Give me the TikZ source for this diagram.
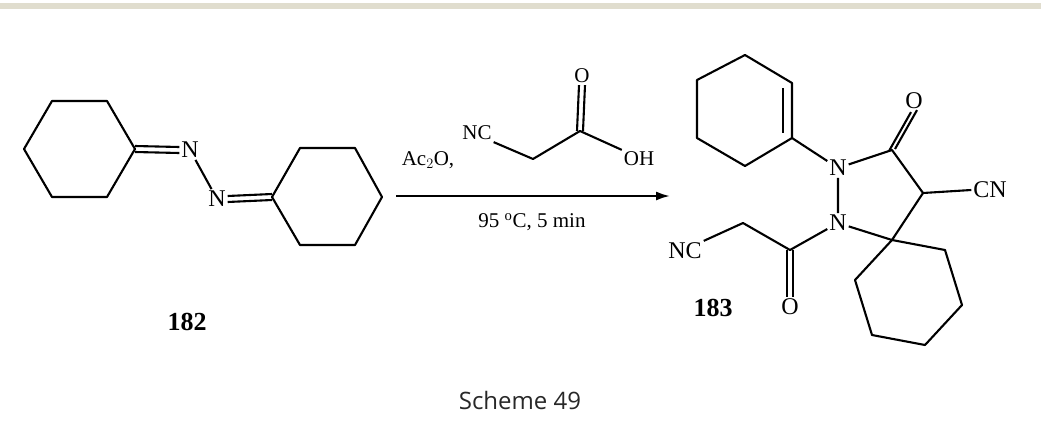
\documentclass[tikz,border=0pt]{standalone}
\usepackage{fontspec}
\usetikzlibrary{arrows.meta}
\setmainfont{Liberation Serif}
\newfontfamily\capfont{Open Sans}
\begin{document}
\begin{tikzpicture}[x=1pt,y=-1pt,line width=2.1pt,line join=round,
 atom/.style={inner sep=1pt,font=\fontsize{24}{25}\selectfont},
 reag/.style={inner sep=1pt,font=\fontsize{21}{22}\selectfont},
 lab/.style={font=\fontsize{26}{27}\selectfont\bfseries}]
\useasboundingbox (0,0) rectangle (1041,434);
\fill[fill={rgb,255:red,224;green,221;blue,206}] (0,3) rectangle (1041,9);
% 182
\draw (52,101)--(107,101)--(135,149)--(107,197)--(52,197)--(24,149)--cycle;
\node[atom] (n1) at (190,150) {N};
\node[atom] (n2) at (217,199) {N};
\coordinate (c2) at (272,197);
\draw ([yshift=-3pt]135,149)--([yshift=-3pt]n1.west);
\draw ([yshift=3pt]135,149)--([yshift=3pt]n1.west);
\draw (n1)--(n2);
\draw ([yshift=-3pt]n2.east)--([yshift=-3pt]c2);
\draw ([yshift=3pt]n2.east)--([yshift=3pt]c2);
\draw (c2)--(300,148)--(355,148)--(382,197)--(355,245)--(300,245)--cycle;
\node[lab] (l182) at (187,322) {182};
% reagents
\node[reag] (ac) at (428,160) {Ac$_2$O,};
\node[reag] (nc1) at (477,133) {NC};
\coordinate (ch) at (533,159);
\coordinate (cc) at (580,131);
\node[reag] (o1) at (582,76) {O};
\node[reag] (oh) at (639,159) {OH};
\draw (nc1.south east)--(ch)--(cc)--(oh.north west);
\draw ([xshift=-3pt]cc)--([xshift=-3pt]o1.south);
\draw ([xshift=3pt]cc)--([xshift=3pt]o1.south);
\coordinate (a1) at (396,196);
\coordinate (a2) at (670,196);
\draw[-{Latex[length=14pt,width=9pt]}] (a1)--(a2);
\node[reag] (cond) at (532,222) {95 $^{\rm o}$C, 5 min};
% 183
\draw (697,80)--(745,55)--(792,83)--(792,138)--(745,166)--(697,138)--cycle;
\draw (783,88)--(783,133);
\node[atom] (na) at (838,168) {N};
\node[atom] (nb) at (838,223) {N};
\coordinate (co) at (892,150);
\node[atom] (o2) at (914,101) {O};
\coordinate (c4) at (923,193);
\node[atom] (cn) at (990,190) {CN};
\coordinate (sp) at (892,240);
\coordinate (ac2) at (790,250);
\node[atom] (o3) at (790,307) {O};
\coordinate (ch2) at (743,223);
\node[atom] (nc2) at (685,251) {NC};
\draw (792,138)--(na);
\draw (na)--(co)--(c4)--(sp)--(nb)--(na);
\draw ([xshift=-3pt,yshift=-1pt]co)--([xshift=-3pt,yshift=-1pt]o2.south);
\draw ([xshift=3pt,yshift=1pt]co)--([xshift=3pt,yshift=1pt]o2.south);
\draw (c4)--(cn.west);
\draw (nb)--(ac2)--(ch2)--(nc2.north east);
\draw ([xshift=-3pt]ac2)--([xshift=-3pt]o3.north);
\draw ([xshift=3pt]ac2)--([xshift=3pt]o3.north);
\draw (sp)--(945,250)--(962,305)--(925,345)--(872,335)--(855,280)--cycle;
\node[lab] (l183) at (713,308) {183};
\node[font=\capfont\fontsize{24}{25}\selectfont,text={rgb,255:red,40;green,40;blue,40}] (cap) at (520,400) {Scheme 49};
\end{tikzpicture}
\end{document}
